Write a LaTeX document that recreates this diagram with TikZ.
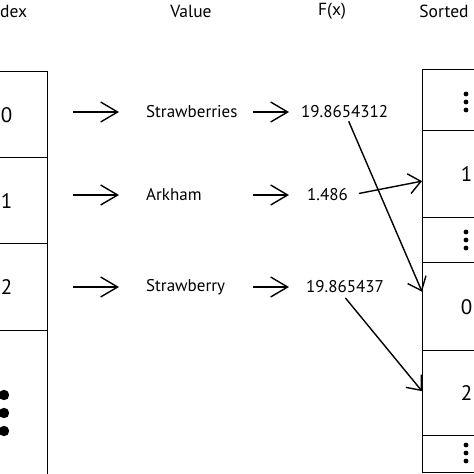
\documentclass[tikz,border=0pt]{standalone}
\usepackage{fontspec}
\setmainfont{PT Sans}
\usetikzlibrary{arrows.meta}

\begin{document}
\begin{tikzpicture}[x=1pt, y=-1pt,
    cellstyle/.style={draw, line width=1.3pt, minimum width=88pt, inner sep=0pt, anchor=north west, font=\fontsize{21}{23}\selectfont},
    headstyle/.style={font=\fontsize{17.5}{19}\selectfont},
    textstyle/.style={anchor=west, inner sep=3pt, font=\fontsize{17}{19}\selectfont},
    maparrow/.style={line width=1.4pt, -{Straight Barb[length=17pt, width=20pt]}},
    sortarrow/.style={line width=1.4pt, -{Straight Barb[length=12pt, width=20pt]}}]
    \useasboundingbox (0,0) rectangle (474,474);

    % headings
    \node[headstyle, anchor=west, inner sep=0pt] (hindex) at (0,11) {dex};
    \node[headstyle] (hvalue) at (191,11) {Value};
    \node[headstyle] (hfx) at (332,11) {F(x)};
    \node[headstyle] (hsorted) at (444,11) {Sorted};

    % index column
    \foreach \i/\y/\h/\t in {0/71/86/0, 1/157/86/1, 2/243/87/2, 3/330/144/{}}
        \node[cellstyle, minimum width=82pt, minimum height=\h pt] (c\i) at (-35,\y) {\t};
    \foreach \y in {395, 413, 431}
        \fill (4,\y) circle (5.2pt);

    % sorted column
    \foreach \i/\y/\h/\t in {0/69/61/{}, 1/130/87/1, 2/217/45/{}, 3/262/88/0, 4/350/85/2, 5/435/37/{}}
        \node[cellstyle, minimum height=\h pt] (s\i) at (422,\y) {\t};
    \foreach \y in {94, 102, 110, 232, 240, 248, 445, 453, 461}
        \fill (466,\y) circle (2.4pt);

    % values and F(x)
    \node[textstyle] (v0) at (143,112) {Strawberries};
    \node[textstyle] (v1) at (143,195) {Arkham};
    \node[textstyle] (v2) at (143,287) {Strawberry};
    \node[textstyle] (f0) at (298,112) {19.8654312};
    \node[textstyle] (f1) at (304,195) {1.486};
    \node[textstyle] (f2) at (303,287) {19.865437};

    \foreach \i in {0,1,2}
        \draw[maparrow, shorten <=25pt, shorten >=24pt] (c\i.east |- v\i.west) -- (v\i.west);
    \foreach \i/\a/\b in {0/45/9, 1/51/15, 2/50/14}
        \draw[maparrow] ([xshift=-\a pt]f\i.west) -- ([xshift=-\b pt]f\i.west);

    % into the sorted column
    \draw[sortarrow] ([xshift=4pt]f0.south) -- ([yshift=15pt]s3.west);
    \draw[sortarrow, shorten <=8pt] (f1.east) -- ([yshift=-7pt]s1.west);
    \draw[sortarrow, shorten <=2pt] ([xshift=-1pt]f2.south) -- ([yshift=2pt]s4.west);
\end{tikzpicture}
\end{document}
